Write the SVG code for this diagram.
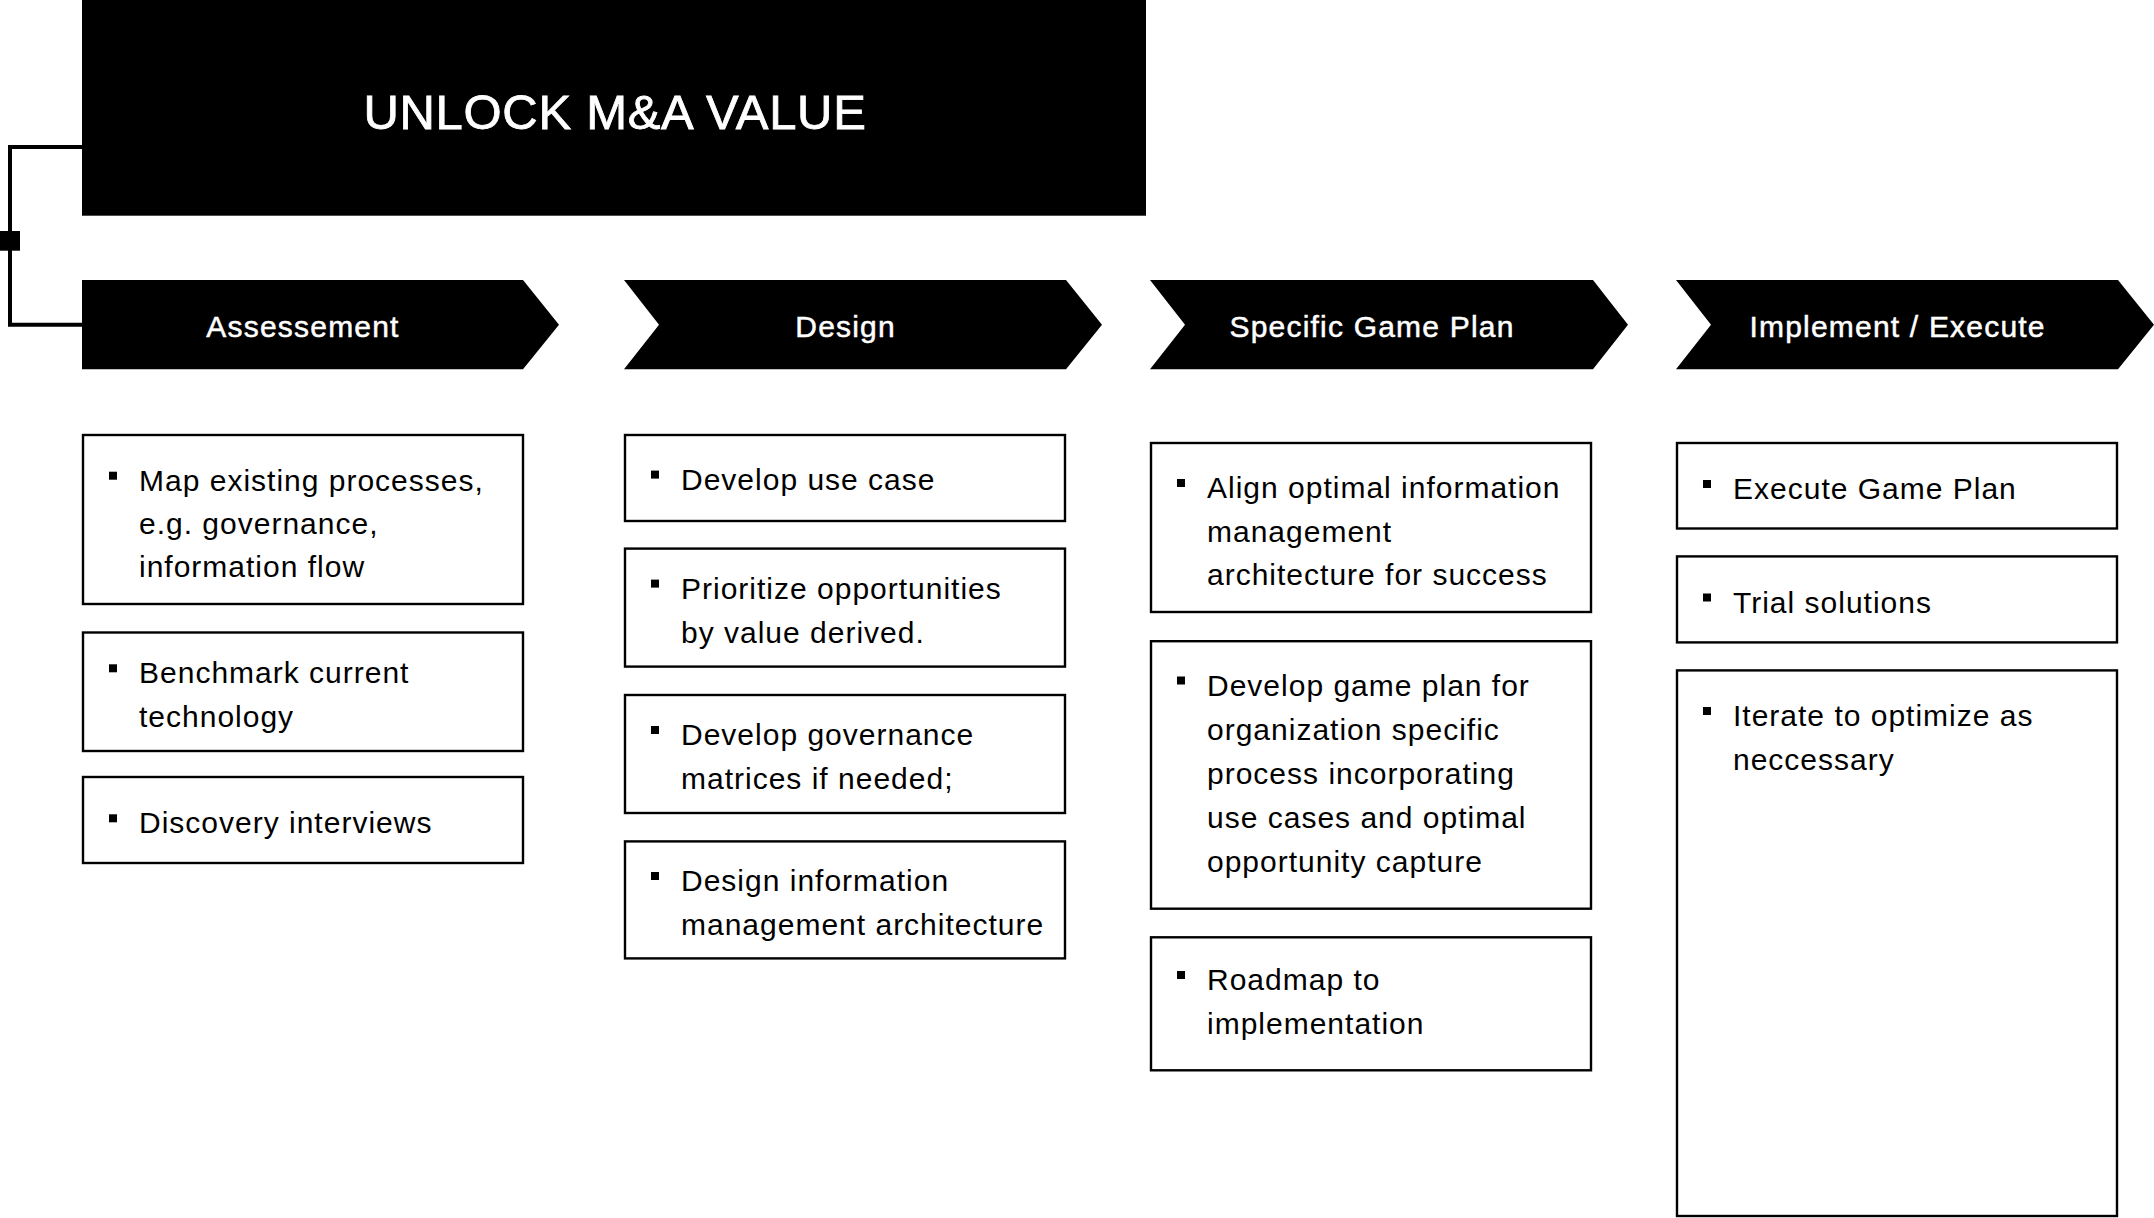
<svg xmlns="http://www.w3.org/2000/svg" width="2154" height="1218" viewBox="0 0 2154 1218">
<style>
  .title { font-family: "Liberation Sans", Arial, sans-serif; font-size: 49px; fill: #fff; stroke: #fff; stroke-width: 0.8; letter-spacing: 0.7px; }
  .phase { fill: #000; }
  .plabel { font-family: "Liberation Sans", Arial, sans-serif; font-size: 30px; fill: #fff; stroke: #fff; stroke-width: 0.5; letter-spacing: 1.2px; text-anchor: middle; }
  .box { fill: #fff; stroke: #000; stroke-width: 2.4; }
  .bullet { fill: #000; }
  .txt { font-family: "Liberation Sans", Arial, sans-serif; font-size: 30px; fill: #000; letter-spacing: 1px; }
  .conn { fill: none; stroke: #000; stroke-width: 4; }
</style>

<g id="connectors">
  <path class="conn" d="M 82 147 H 10 V 324.7 H 82"/>
  <rect x="0" y="231" width="20" height="19.7" fill="#000"/>
</g>

<g id="title">
  <rect x="82" y="0" width="1064" height="215.7" fill="#000"/>
  <text class="title" x="615" y="129.3" text-anchor="middle">UNLOCK M&amp;A VALUE</text>
</g>

<g id="phase-assessement">
  <polygon class="phase" points="82,280 523,280 559,324.7 523,369.3 82,369.3"/>
  <text class="plabel" x="303" y="337.3">Assessement</text>
</g>
<g id="phase-design">
  <polygon class="phase" points="624,280 1066,280 1102,324.7 1066,369.3 624,369.3 659,324.7"/>
  <text class="plabel" x="845.6" y="337.3">Design</text>
</g>
<g id="phase-game-plan">
  <polygon class="phase" points="1150,280 1593,280 1628,324.7 1593,369.3 1150,369.3 1185,324.7"/>
  <text class="plabel" x="1372" y="337.3">Specific Game Plan</text>
</g>
<g id="phase-implement">
  <polygon class="phase" points="1676,280 2118,280 2154,324.7 2118,369.3 1676,369.3 1711,324.7"/>
  <text class="plabel" x="1897.6" y="337.3">Implement / Execute</text>
</g>

<!-- Column 1 -->
<g id="a1">
  <rect class="box" x="83" y="435" width="440" height="169"/>
  <rect class="bullet" x="109" y="471.7" width="8" height="8"/>
  <text class="txt"><tspan x="139" y="490.7">Map existing processes,</tspan><tspan x="139" y="534.3">e.g. governance,</tspan><tspan x="139" y="577">information flow</tspan></text>
</g>
<g id="a2">
  <rect class="box" x="83" y="632.5" width="440" height="118.5"/>
  <rect class="bullet" x="109" y="664.3" width="8" height="8"/>
  <text class="txt"><tspan x="139" y="683.3">Benchmark current</tspan><tspan x="139" y="726.7">technology</tspan></text>
</g>
<g id="a3">
  <rect class="box" x="83" y="777" width="440" height="86"/>
  <rect class="bullet" x="109" y="814.3" width="8" height="8"/>
  <text class="txt"><tspan x="139" y="833.3">Discovery interviews</tspan></text>
</g>

<!-- Column 2 -->
<g id="d1">
  <rect class="box" x="625" y="435" width="440" height="86"/>
  <rect class="bullet" x="651" y="470.6" width="8" height="8"/>
  <text class="txt"><tspan x="681" y="489.6">Develop use case</tspan></text>
</g>
<g id="d2">
  <rect class="box" x="625" y="548.6" width="440" height="118"/>
  <rect class="bullet" x="651" y="579.6" width="8" height="8"/>
  <text class="txt"><tspan x="681" y="598.6">Prioritize opportunities</tspan><tspan x="681" y="643">by value derived.</tspan></text>
</g>
<g id="d3">
  <rect class="box" x="625" y="695" width="440" height="118"/>
  <rect class="bullet" x="651" y="726" width="8" height="8"/>
  <text class="txt"><tspan x="681" y="745">Develop governance</tspan><tspan x="681" y="789">matrices if needed;</tspan></text>
</g>
<g id="d4">
  <rect class="box" x="625" y="841.4" width="440" height="117"/>
  <rect class="bullet" x="651" y="872" width="8" height="8"/>
  <text class="txt"><tspan x="681" y="891">Design information</tspan><tspan x="681" y="935">management architecture</tspan></text>
</g>

<!-- Column 3 -->
<g id="g1">
  <rect class="box" x="1151" y="443" width="440" height="169"/>
  <rect class="bullet" x="1177" y="479" width="8" height="8"/>
  <text class="txt"><tspan x="1207" y="498">Align optimal information</tspan><tspan x="1207" y="541.5">management</tspan><tspan x="1207" y="585">architecture for success</tspan></text>
</g>
<g id="g2">
  <rect class="box" x="1151" y="641.2" width="440" height="267.5"/>
  <rect class="bullet" x="1177" y="676.5" width="8" height="8"/>
  <text class="txt"><tspan x="1207" y="695.5">Develop game plan for</tspan><tspan x="1207" y="739.5">organization specific</tspan><tspan x="1207" y="783.5">process incorporating</tspan><tspan x="1207" y="827.5">use cases and optimal</tspan><tspan x="1207" y="871.5">opportunity capture</tspan></text>
</g>
<g id="g3">
  <rect class="box" x="1151" y="937.3" width="440" height="133"/>
  <rect class="bullet" x="1177" y="971" width="8" height="8"/>
  <text class="txt"><tspan x="1207" y="990">Roadmap to</tspan><tspan x="1207" y="1034">implementation</tspan></text>
</g>

<!-- Column 4 -->
<g id="i1">
  <rect class="box" x="1677" y="443" width="440" height="85.5"/>
  <rect class="bullet" x="1703" y="480" width="8" height="8"/>
  <text class="txt"><tspan x="1733" y="499">Execute Game Plan</tspan></text>
</g>
<g id="i2">
  <rect class="box" x="1677" y="556.4" width="440" height="86"/>
  <rect class="bullet" x="1703" y="593.5" width="8" height="8"/>
  <text class="txt"><tspan x="1733" y="612.5">Trial solutions</tspan></text>
</g>
<g id="i3">
  <rect class="box" x="1677" y="670.4" width="440" height="545.6"/>
  <rect class="bullet" x="1703" y="707" width="8" height="8"/>
  <text class="txt"><tspan x="1733" y="726">Iterate to optimize as</tspan><tspan x="1733" y="770">neccessary</tspan></text>
</g>
</svg>
